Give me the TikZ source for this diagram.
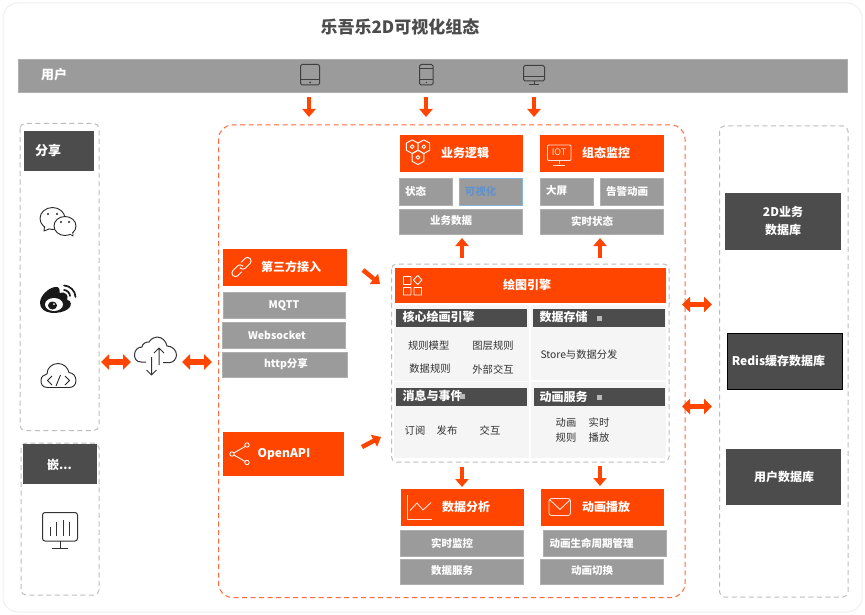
\documentclass[tikz,border=0pt]{standalone}
\usepackage{fontspec}
\setmainfont{Noto Sans CJK SC}
\usetikzlibrary{arrows.meta,calc}
\definecolor{org}{HTML}{FF4500}
\definecolor{gry}{HTML}{9B9B9B}
\definecolor{drk}{HTML}{4C4C4C}
\definecolor{pale}{HTML}{F5F5F5}
\definecolor{dashg}{HTML}{BDBDBD}
\definecolor{dasho}{HTML}{FF6A3A}
\definecolor{icn}{HTML}{3F3F3F}
\definecolor{blueedge}{HTML}{8AB4E0}
\definecolor{bluetxt}{HTML}{6391C9}
\tikzset{
 base/.style={inner sep=0pt,outer sep=0pt,draw=none},
 orangebox/.style={base,fill=org},
 graybox/.style={base,fill=gry,draw=gry!80!white,line width=.6pt},
 bluebox/.style={base,fill=gry,draw=blueedge,line width=.8pt},
 darkbox/.style={base,fill=drk},
 blackbox/.style={base,fill=drk,draw=black,line width=.8pt},
 palebox/.style={base,fill=pale},
 wt/.style={inner sep=0pt,text=white,font=\fontsize{10.5}{12}\selectfont\bfseries,align=center},
 wtl/.style={wt,font=\fontsize{13}{15}\selectfont\bfseries},
 wth/.style={wt,font=\fontsize{12}{14}\selectfont\bfseries},
 wtd/.style={wt,font=\fontsize{12}{18}\selectfont\bfseries},
 bodyt/.style={inner sep=0pt,text=black!80,font=\fontsize{10.3}{12}\selectfont},
 bluet/.style={wt,text=bluetxt},
 blockarrow/.style={draw=org,line width=4.5pt,-{Triangle[length=8pt,width=13pt,fill=org]}},
 twoway/.style={draw=org,line width=5.5pt,{Triangle[length=8pt,width=15pt,fill=org]}-{Triangle[length=8pt,width=15pt,fill=org]}},
 grayframe/.style={draw=dashg,line width=1pt,dash pattern=on 5pt off 3.5pt,rounded corners=5pt},
 orangeframe/.style={draw=dasho,line width=1pt,dash pattern=on 5pt off 3.5pt,rounded corners=14pt},
 iconw/.style={draw=white,line width=.9pt,line join=round,line cap=round},
 iconp/.style={draw=white!85!org,line width=.9pt,line join=round},
 icond/.style={draw=icn,line width=1pt,line join=round},
 iconk/.style={draw=black!85,line width=.9pt,line join=round},
 minis/.style={base,fill=gry!70!white,minimum width=5pt,minimum height=5pt},
}
\begin{document}
\begin{tikzpicture}[x=1pt,y=-1pt]
\useasboundingbox (0,0) rectangle (865,615);
\fill[white] (0,0) rectangle (865,615);
\draw[draw=black!6,line width=1pt,rounded corners=15pt] (3,3) rectangle (862,612);
\node[inner sep=0pt,text=drk,font=\fontsize{17}{20}\selectfont\bfseries] (title) at (400,26.5) {乐吾乐2D可视化组态};
% user bar
\node[graybox,minimum width=829pt,minimum height=33pt] (userbar) at (432.5,75.5) {};
\node[wtl] (usertxt) at (54,75) {用户};
\coordinate (da1) at (309,97); \coordinate (db1) at (309,117);
\coordinate (da2) at (426,97); \coordinate (db2) at (426,117);
\coordinate (da3) at (534,97); \coordinate (db3) at (534,117);
\draw[blockarrow] (da1) -- (db1);
\draw[blockarrow] (da2) -- (db2);
\draw[blockarrow] (da3) -- (db3);
% device icons
\draw[icond,rounded corners=1.5pt] (300.5,64.5) rectangle (319.5,85); \draw[icond] (300.5,80) -- (319.5,80); \fill[icn] (310,82.5) circle (1pt);
\draw[icond,rounded corners=1.5pt] (419.5,64.5) rectangle (433,85); \draw[icond] (419.5,68.5) -- (433,68.5) (419.5,80) -- (433,80); \fill[icn] (426.3,82.5) circle (.8pt);
\draw[icond,rounded corners=1.5pt] (523.5,65.5) rectangle (544.5,81); \draw[icond] (523.5,77) -- (544.5,77) (534,81) -- (534,84.5) (529,84.5) -- (539,84.5);
% frames
\draw[orangeframe] (218.5,125) rectangle (685,597.5);
\draw[grayframe] (20,123.5) rectangle (99,430.5);
\draw[grayframe] (21,443) rectangle (99,595);
\draw[grayframe] (719.5,126) rectangle (848,597);
\draw[grayframe] (391.5,264) rectangle (669,462);
% left panels
\node[darkbox,minimum width=70pt,minimum height=40pt] (share) at (59,151) {};
\node[wtl] (sharet) at (48,151) {分享};
\node[darkbox,minimum width=74pt,minimum height=40pt] (embed) at (60,464) {};
\node[wth] (embedt) at (59.5,465) {嵌...};
% wechat
\draw[iconk,fill=white] (52.5,218.5) ellipse (12.5pt and 11pt);
\draw[iconk,fill=white] (44.5,227) -- (44,231) -- (49,229);
\fill[white] (45.5,226) -- (45,229.5) -- (50,228) -- cycle;
\draw[iconk,fill=white] (65,226) ellipse (11pt and 9.5pt);
\draw[iconk,fill=white] (70,234) -- (73,236) -- (72.5,232);
\fill[white] (69,233) -- (72.5,235) -- (72,231) -- cycle;
\fill[black!85] (48,214) circle (1.2pt) (57,214) circle (1.2pt) (61,222) circle (1.2pt) (69,222) circle (1.2pt);
% weibo
\fill[black!90] (40,303) .. controls (40,296) and (48,288) .. (55,287) .. controls (60,286) and (60,291) .. (59.5,293) .. controls (66,291) and (69,296) .. (67,299.5) .. controls (72,301) and (72,306) .. (68,309) .. controls (60,315) and (40,315) .. (40,303) -- cycle;
\fill[white] (54,304.5) ellipse (9pt and 6.5pt);
\fill[black!90] (52.5,305.5) ellipse (4.5pt and 4pt);
\fill[white] (54,304) circle (1pt);
\draw[black!90,line width=1.7pt,line cap=round] (64,290) .. controls (67,290) and (70,293) .. (70,296);
\draw[black!90,line width=1.7pt,line cap=round] (64,285.5) .. controls (70,285.5) and (75.5,291) .. (75.5,297);
% cloud code
\draw[iconk] (48,387.5) .. controls (42,387.5) and (41,384) .. (41,380.5) .. controls (41,376.5) and (44,374.5) .. (47,374) .. controls (47,368) and (52,363.5) .. (58,363.5) .. controls (64,363.5) and (68,368) .. (69,372.5) .. controls (73,373) and (76,376) .. (76,380.5) .. controls (76,385) and (73,387.5) .. (69,387.5) -- cycle;
\draw[iconk] (52,376) -- (47.5,380.5) -- (52,385) (56,386) -- (60.5,375) (65,376) -- (69.5,380.5) -- (65,385);
% dash monitor
\draw[icond,draw=black!80,rounded corners=2.5pt] (42.5,512.5) rectangle (77.5,541);
\draw[icond,draw=black!80] (50.5,536) -- (50.5,527) (56,536) -- (56,522) (63.5,536) -- (63.5,519.5) (69,536) -- (69,522) (60,541) -- (60,547.5) (52,548) -- (67.5,548);
% cloud updown
\draw[icond,draw=black!80] (146,362) -- (141,362) .. controls (136,362) and (134.5,358) .. (134.5,355) .. controls (134.5,350) and (138,347) .. (142,347) .. controls (142,344) and (146,341.5) .. (149,342) .. controls (151,339) and (154,337) .. (157,337) .. controls (162,337) and (166,341) .. (167,346) .. controls (172,346) and (176.5,350) .. (176.5,355) .. controls (176.5,359) and (173,362.5) .. (170,362.5) -- (163,362.5);
\draw[icond,draw=black!80] (159,365) -- (159,348) (154,353) -- (159,348) -- (164,353);
\draw[icond,draw=black!80] (151.5,357) -- (151.5,375) (146.5,370) -- (151.5,375) -- (156.5,370);
% double arrows
\coordinate (la1) at (101,362); \coordinate (la2) at (131,362);
\coordinate (la3) at (182,362); \coordinate (la4) at (212,362);
\coordinate (ra1) at (682,304.5); \coordinate (ra2) at (712,304.5);
\coordinate (ra3) at (682,406.5); \coordinate (ra4) at (712,406.5);
\draw[twoway] (la1) -- (la2);
\draw[twoway] (la3) -- (la4);
\draw[twoway] (ra1) -- (ra2);
\draw[twoway] (ra3) -- (ra4);
% third party
\node[orangebox,minimum width=124pt,minimum height=37pt] (third) at (285,267.5) {};
\node[wth] (thirdt) at (291,266.5) {第三方接入};
\begin{scope}[shift={(241.5,267)},x={(.707pt,.707pt)},y={(-.707pt,.707pt)}]
\draw[iconw,rounded corners=3.4pt] (3,3.6) -- (12,3.6) -- (12,-3.6) -- (-1.5,-3.6) -- (-1.5,.5);
\draw[iconw,rounded corners=3.4pt] (-3,-3.6) -- (-12,-3.6) -- (-12,3.6) -- (1.5,3.6) -- (1.5,-.5);
\end{scope}
\node[graybox,minimum width=122pt,minimum height=26pt] (mqtt) at (284.5,305) {};
\node[wt] (mqttt) at (284,306) {MQTT};
\node[graybox,minimum width=123pt,minimum height=26pt] (ws) at (284,335) {};
\node[wt] (wst) at (277,335) {Websocket};
\node[graybox,minimum width=124.5pt,minimum height=25pt] (http) at (284.75,364.5) {};
\node[wt] (httpt) at (286,364.5) {http分享};
\node[orangebox,minimum width=121pt,minimum height=44pt] (openapi) at (283.5,454) {};
\node[wt,font=\fontsize{12}{15}\selectfont\bfseries] (openapit) at (284,454) {OpenAPI};
\draw[iconw] (247,445.5) -- (232,454) -- (247,462.5);
\fill[org] (247,445) circle (2.2pt) (232,454) circle (2.2pt) (247,462.5) circle (2.2pt);
\draw[iconw] (247,445) circle (2.2pt) (232,454) circle (2.2pt) (247,462.5) circle (2.2pt);
\coordinate (dg1) at (363,270); \coordinate (dg2) at (380,284);
\coordinate (dg3) at (362,447); \coordinate (dg4) at (381,437);
\draw[blockarrow] (dg1) -- (dg2);
\draw[blockarrow] (dg3) -- (dg4);
% engine
\node[orangebox,minimum width=271.5pt,minimum height=35pt] (eng) at (530.25,285.5) {};
\node[wth] (engt) at (527,285) {绘图引擎};
\draw[iconw] (403.5,276.5) rectangle (411,284.5) (403.5,287.5) rectangle (411,295) (414,287.5) rectangle (421.5,295) (417.7,275.5) -- (422,280) -- (417.7,284.5) -- (413.4,280) -- cycle;
\node[palebox,minimum width=135pt,minimum height=76pt] (p1) at (461.5,343) {};
\node[palebox,minimum width=135pt,minimum height=75pt] (p2) at (598.5,342.5) {};
\node[palebox,minimum width=135pt,minimum height=76pt] (p3) at (461.5,420) {};
\node[palebox,minimum width=135pt,minimum height=76pt] (p4) at (598.5,420) {};
\node[darkbox,minimum width=131pt,minimum height=18pt] (h1) at (461.5,318) {};
\node[darkbox,minimum width=132pt,minimum height=18pt] (h2) at (599,318) {};
\node[darkbox,minimum width=131pt,minimum height=18pt] (h3) at (461.5,397) {};
\node[darkbox,minimum width=131.5pt,minimum height=18pt] (h4) at (599.25,397) {};
\node[wth,anchor=west] (h1t) at (402.5,317) {核心绘画引擎};
\node[wth,anchor=west] (h2t) at (539.5,317) {数据存储};
\node[wth,anchor=west] (h3t) at (402.5,396) {消息与事件};
\node[wth,anchor=west] (h4t) at (539.5,397) {动画服务};
\node[minis] (m2) at (599,318) {}; \node[minis] (m3) at (462.5,396.5) {}; \node[minis] (m4) at (599,397) {};
\node[bodyt] (b1) at (428.7,345.5) {规则模型};
\node[bodyt] (b2) at (493,346) {图层规则};
\node[bodyt] (b3) at (430,369) {数据规则};
\node[bodyt] (b4) at (493,370) {外部交互};
\node[bodyt] (b5) at (579,354.5) {Store与数据分发};
\node[bodyt] (b6) at (415,431) {订阅};
\node[bodyt] (b7) at (447,431) {发布};
\node[bodyt] (b8) at (490,431) {交互};
\node[bodyt] (b9) at (566,423) {动画};
\node[bodyt] (b10) at (599,423) {实时};
\node[bodyt] (b11) at (566,438) {规则};
\node[bodyt] (b12) at (599,438) {播放};
% top boxes
\node[orangebox,minimum width=123pt,minimum height=37pt] (biz) at (461.5,153.5) {};
\node[wth] (bizt) at (465,153) {业务逻辑};
\begin{scope}[iconw,shift={(418,153.5)},scale=1.3]
\draw (-4.5,-10.5) -- (0,-8) -- (0,-2.5) -- (-4.5,0) -- (-9,-2.5) -- (-9,-8) -- cycle;
\draw (4.5,-10.5) -- (9,-8) -- (9,-2.5) -- (4.5,0) -- (0,-2.5) -- (0,-8) -- cycle;
\draw (0,-2.5) -- (4.5,0) -- (4.5,6) -- (0,8.5) -- (-4.5,6) -- (-4.5,0) -- cycle;
\draw (-4.5,-5.2) circle (1.5pt) (4.5,-5.2) circle (1.5pt) (0,3) circle (1.5pt);
\end{scope}
\node[orangebox,minimum width=124pt,minimum height=37pt] (iot) at (602,153.5) {};
\node[wth] (iott) at (606,153) {组态监控};
\draw[iconp,rounded corners=1pt] (547.5,145) rectangle (571,160.5);
\draw[iconp] (559,160.5) -- (559,164.5) (553,165) -- (565,165);
\node[inner sep=0pt,text=white!85!org,font=\fontsize{9}{10}\selectfont] (iotl) at (559,152.7) {IOT};
\node[graybox,minimum width=53pt,minimum height=27pt] (s1) at (425.5,191.5) {};
\node[wt] (s1t) at (415.5,191) {状态};
\node[bluebox,minimum width=63pt,minimum height=27pt] (s2) at (490.5,191.5) {};
\node[bluet] (s2t) at (480.5,191) {可视化};
\node[graybox,minimum width=123pt,minimum height=25pt] (s3) at (460.5,221.5) {};
\node[wt] (s3t) at (451,221) {业务数据};
\node[graybox,minimum width=53pt,minimum height=27pt] (r1) at (566.5,191.5) {};
\node[wt] (r1t) at (556.5,191) {大屏};
\node[graybox,minimum width=63pt,minimum height=27pt] (r2) at (631.5,191.5) {};
\node[wt] (r2t) at (627,191) {告警动画};
\node[graybox,minimum width=123pt,minimum height=25pt] (r3) at (601.5,221.5) {};
\node[wt] (r3t) at (592,221) {实时状态};
\coordinate (ua1) at (462,258); \coordinate (ub1) at (462,238);
\coordinate (ua2) at (600,258); \coordinate (ub2) at (600,238);
\draw[blockarrow] (ua1) -- (ub1);
\draw[blockarrow] (ua2) -- (ub2);
\coordinate (va1) at (462,467); \coordinate (vb1) at (462,487);
\coordinate (va2) at (600,466); \coordinate (vb2) at (600,486);
\draw[blockarrow] (va1) -- (vb1);
\draw[blockarrow] (va2) -- (vb2);
% bottom boxes
\node[orangebox,minimum width=123pt,minimum height=37pt] (ana) at (462.5,507.5) {};
\node[wth] (anat) at (466,507) {数据分析};
\draw[iconp] (407.5,495) -- (407.5,519 ) -- (431.5,519);
\draw[iconp] (410,510.5) -- (417,503) -- (423,510) -- (431,502.5);
\node[orangebox,minimum width=123pt,minimum height=37pt] (ani) at (602.5,507.5) {};
\node[wth] (anit) at (606,507) {动画播放};
\draw[iconp,rounded corners=2.5pt] (549,498.5) rectangle (570.5,515.5);
\draw[iconp] (550,500) -- (560,509.5) -- (570,500);
\node[graybox,minimum width=123pt,minimum height=26pt] (a1) at (461.5,543) {};
\node[wt] (a1t) at (452,543) {实时监控};
\node[graybox,minimum width=123pt,minimum height=25pt] (a2) at (461.5,571.5) {};
\node[wt] (a2t) at (452,571) {数据服务};
\node[graybox,minimum width=123pt,minimum height=26pt] (c1) at (604.5,543) {};
\node[wt] (c1t) at (591.5,543) {动画生命周期管理};
\node[graybox,minimum width=123pt,minimum height=25pt] (c2) at (601.5,571.5) {};
\node[wt] (c2t) at (592,571) {动画切换};
% databases
\node[darkbox,minimum width=116pt,minimum height=57pt] (d1) at (783,221.5) {};
\node[wtd] (d1t) at (783,221) {2D业务\\数据库};
\node[blackbox,minimum width=115pt,minimum height=56pt] (d2) at (784.5,361) {};
\node[wtd] (d2t) at (778.5,361) {Redis缓存数据库};
\node[darkbox,minimum width=115pt,minimum height=56pt] (d3) at (783.5,477) {};
\node[wtd] (d3t) at (784,477) {用户数据库};
\end{tikzpicture}
\end{document}
